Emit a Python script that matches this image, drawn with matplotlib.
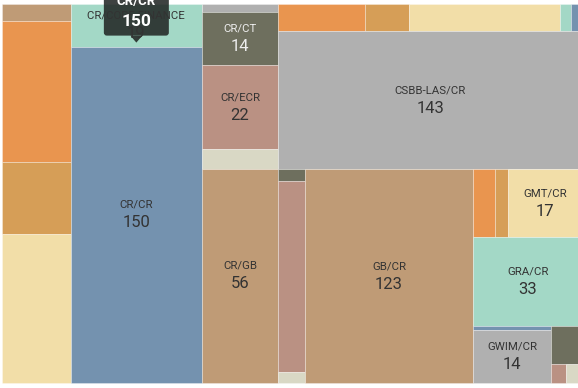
import matplotlib.pyplot as plt
from matplotlib.patches import FancyBboxPatch, Polygon, Rectangle

# cells in drawing order (d3-style squarified treemap, unsorted)
names = [
    "", "", "", "", "CR/CORE FINANCE", "CR/CR", "", "CR/CT", "CR/ECR", "", "CR/GB",
    "", "", "", "", "", "CSBB-LAS/CR", "", "", "", "GB/CR", "", "", "GMT/CR",
    "GRA/CR", "", "GWIM/CR", "", "", "",
]
values = [
    4, 33, 17, 35, 19, 150, 2, 14, 22, 5, 56,
    8, 4, 14, 1, 1, 143, 1, 17, 1, 123, 5, 3, 17,
    33, 1, 14, 4, 1, 1,
]
palette = [
    "#bf9b76", "#e9954f", "#d69e57", "#f2dea8", "#a3d8c6",
    "#7492af", "#b0b0b0", "#6e6f5e", "#ba9183", "#d9d8c5",
]
hovered = "CR/CR"


def squarify(vals, x0, y0, x1, y1, ratio=1.618034):
    rects = [None] * len(vals)
    value = float(sum(vals))
    i0, n = 0, len(vals)
    while i0 < n:
        dx, dy = x1 - x0, y1 - y0
        s = lo = hi = vals[i0]
        i1 = i0 + 1
        alpha = max(dy / dx, dx / dy) / (value * ratio)
        beta = s * s * alpha
        best = max(hi / beta, beta / lo)
        while i1 < n:
            v = vals[i1]
            s2, lo2, hi2 = s + v, min(lo, v), max(hi, v)
            beta = s2 * s2 * alpha
            r = max(hi2 / beta, beta / lo2)
            if r > best:
                break
            s, lo, hi, best = s2, lo2, hi2, r
            i1 += 1
        if dx < dy:
            h = dy * s / value
            x = x0
            for i in range(i0, i1):
                w = dx * vals[i] / s
                rects[i] = (x, y0, w, h)
                x += w
            y0 += h
        else:
            w = dx * s / value
            y = y0
            for i in range(i0, i1):
                h = dy * vals[i] / s
                rects[i] = (x0, y, w, h)
                y += h
            x0 += w
        value -= s
        i0 = i1
    return rects


plt.rcParams["font.family"] = ["Roboto", "DejaVu Sans"]
fig = plt.figure(figsize=(5.78, 3.88), dpi=100)
ax = fig.add_axes([0, 0, 1, 1])
ax.set_xlim(0, 578)
ax.set_ylim(388, 0)
ax.axis("off")

rects = squarify(values, 2, 4, 582, 383)
for i, (name, val, (x, y, w, h)) in enumerate(zip(names, values, rects)):
    color = palette[i % len(palette)]
    ax.add_patch(Rectangle((x, y), w, h, facecolor=color,
                           edgecolor=(1, 1, 1, 0.35), linewidth=0.6))
    if name:
        cx, cy = x + w / 2, y + h / 2
        tc = "#eeeeee" if color == "#6e6f5e" else "#333333"
        ax.text(cx, cy - 10, name, ha="center", va="center", fontsize=8.2, color=tc)
        ax.text(cx, cy + 8, str(val), ha="center", va="center", fontsize=12, color=tc)

# tooltip over the hovered cell
k = names.index(hovered)
x, y, w, h = rects[k]
cx = x + w / 2
bottom = y - 11
tip_color = "#232826"
ax.add_patch(FancyBboxPatch((cx - 32.5, bottom - 46), 65, 46,
                            boxstyle="round,pad=0,rounding_size=3",
                            facecolor=tip_color, edgecolor="none", alpha=0.88))
ax.add_patch(Polygon([(cx - 6, bottom), (cx + 6, bottom), (cx, y - 4)],
                     closed=True, facecolor=tip_color, edgecolor="none", alpha=0.88))
ax.text(cx, 1.5, hovered, ha="center", va="center", fontsize=9.5,
        fontweight="bold", color="white")
ax.text(cx, 21, str(values[k]), ha="center", va="center", fontsize=12.5,
        fontweight="bold", color="white")

fig.savefig("out.png", dpi=100)
